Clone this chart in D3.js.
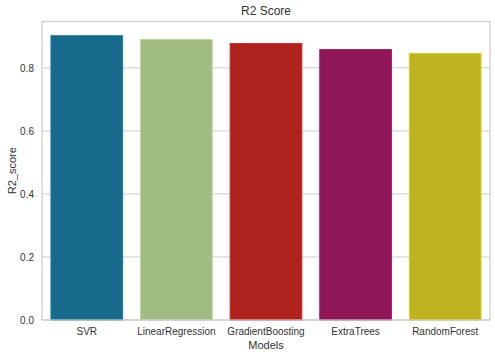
<!DOCTYPE html>
<html><head><meta charset="utf-8">
<script src="https://cdn.jsdelivr.net/npm/d3@7"></script>
<style>body{margin:0;background:#fff}svg{display:block;font-family:"Liberation Sans",Arial,sans-serif}</style>
</head><body><svg id="c" width="495" height="357"></svg>
<script>
const models = ["SVR","LinearRegression","GradientBoosting","ExtraTrees","RandomForest"];
const scores = [0.902, 0.890, 0.877, 0.858, 0.846];
const colors = ["#176a8c","#a0bc82","#b0221e","#8f1759","#bfb320"];
const yTicks = [0.0,0.2,0.4,0.6,0.8];

const svg = d3.select("#c");
const m = {l:42, r:5, t:21.5, b:37};
const W = 495, H = 357;
const x = d3.scaleBand().domain(models).range([m.l, W-m.r]).paddingInner(0.2).paddingOuter(0.1);
const y = d3.scaleLinear().domain([0, d3.max(scores)*1.05]).range([H-m.b, m.t]);

// grid
svg.append("g").selectAll("line").data(yTicks).join("line")
  .attr("x1", m.l).attr("x2", W-m.r)
  .attr("y1", d=>y(d)).attr("y2", d=>y(d))
  .attr("stroke","#cccccc").attr("stroke-width",1);

// bars
svg.append("g").selectAll("rect").data(models).join("rect")
  .attr("x", d=>x(d)).attr("width", x.bandwidth())
  .attr("y", (d,i)=>y(scores[i])).attr("height", (d,i)=>y(0)-y(scores[i]))
  .attr("fill", (d,i)=>colors[i])
  .attr("stroke", (d,i)=>d3.color(colors[i]).brighter(0.4)).attr("stroke-width",1);

// frame
svg.append("rect").attr("x", m.l).attr("y", m.t).attr("width", W-m.r-m.l).attr("height", H-m.b-m.t)
  .attr("fill","none").attr("stroke","#cccccc").attr("stroke-width",1.2);

// y axis
const ya = d3.axisLeft(y).tickValues(yTicks).tickFormat(d3.format(".1f")).tickSize(0).tickPadding(8);
const gy = svg.append("g").attr("transform",`translate(${m.l},0)`).call(ya);
gy.select(".domain").remove();
gy.selectAll("text").attr("font-size",10).attr("fill","#333").style("font-family","Liberation Sans, Arial, sans-serif");

// x axis
const xa = d3.axisBottom(x).tickSize(0).tickPadding(8);
const gx = svg.append("g").attr("transform",`translate(0,${H-m.b})`).call(xa);
gx.select(".domain").remove();
gx.selectAll("text").attr("font-size",10).attr("fill","#333").style("font-family","Liberation Sans, Arial, sans-serif");

// labels
svg.append("text").attr("x", (m.l+W-m.r)/2).attr("y", 15).attr("text-anchor","middle")
  .attr("font-size",12).attr("fill","#333").text("R2 Score");
svg.append("text").attr("x", (m.l+W-m.r)/2).attr("y", 349).attr("text-anchor","middle")
  .attr("font-size",11).attr("fill","#333").text("Models");
svg.append("text").attr("transform",`translate(16,${(m.t+H-m.b)/2}) rotate(-90)`).attr("text-anchor","middle")
  .attr("font-size",11).attr("fill","#333").text("R2_score");
</script></body></html>
